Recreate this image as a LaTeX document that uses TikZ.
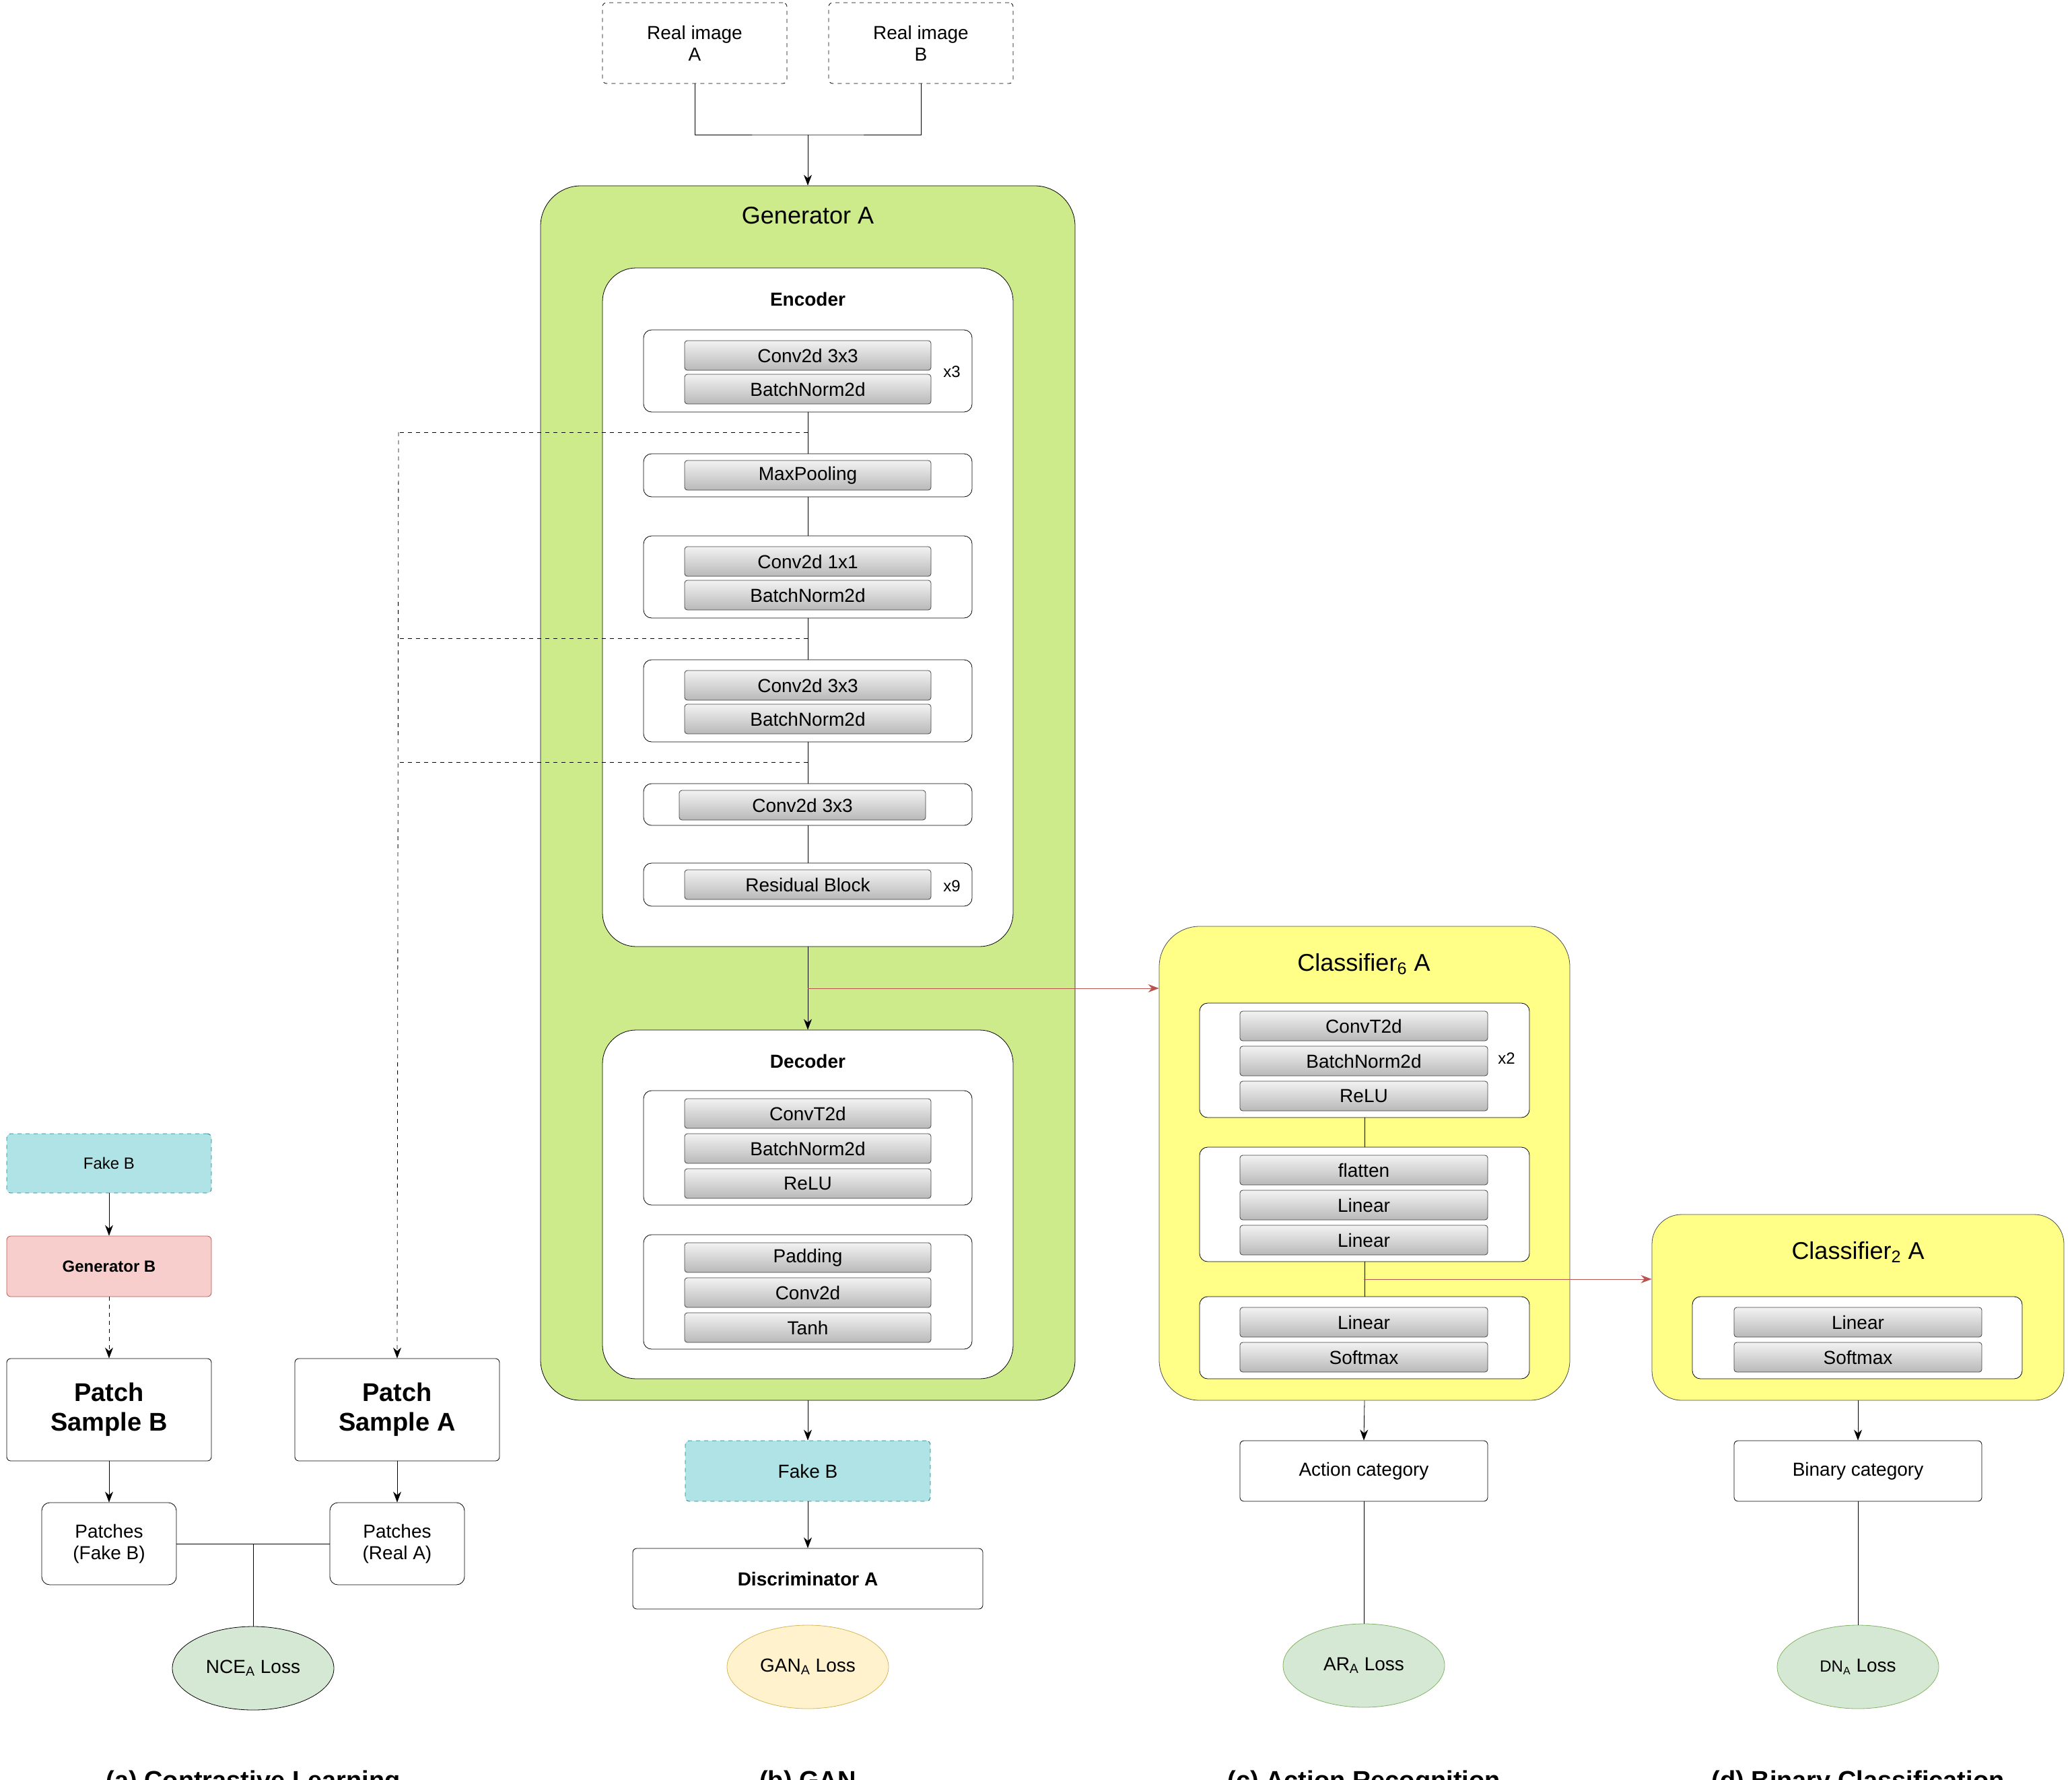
\documentclass[tikz,border=0pt]{standalone}
\usepackage{fontspec}
\setmainfont{Liberation Sans}
\usetikzlibrary{arrows.meta,shapes.geometric}
\definecolor{gen}{HTML}{CDEB8B}
\definecolor{cls}{HTML}{FFFF88}
\definecolor{teal1}{HTML}{B0E3E6}
\definecolor{teal2}{HTML}{0E8088}
\definecolor{redf}{HTML}{F8CECC}
\definecolor{redd}{HTML}{B85450}
\definecolor{grf}{HTML}{D5E8D4}
\definecolor{grd}{HTML}{82B366}
\definecolor{yf}{HTML}{FFF2CC}
\definecolor{yd}{HTML}{D6B656}
\definecolor{arr}{HTML}{B85450}
\tikzset{
 T/.style={font=\fontsize{14}{16}\selectfont},
 btn/.style={draw=gray!50!black,rounded corners=2pt,top color=gray!10,bottom color=gray!55,minimum height=22pt,inner sep=0pt,T},
 blk/.style={draw,fill=white,rounded corners=6pt,inner sep=0pt},
 big/.style={draw,rounded corners=30pt,inner sep=0pt},
 box/.style={draw,fill=white,rounded corners=3pt,inner sep=0pt,T,align=center},
 loss/.style={ellipse,draw,minimum width=120pt,minimum height=62pt,inner sep=0pt,T},
 a/.style={-{Stealth[length=8pt,width=6pt]}},
 ra/.style={draw=arr,-{Stealth[length=8pt,width=6pt]}},
 captxt/.style={font=\fontsize{19}{22}\selectfont\bfseries},
}
\begin{document}
\begin{tikzpicture}[x=1pt,y=-1pt]
\useasboundingbox (0,0) rectangle (1539,1322);
% real images
\node[box,dashed,minimum width=137,minimum height=60] (ra) at (516,32) {Real image\\A};
\node[box,dashed,minimum width=137,minimum height=60] (rb) at (684,32) {Real image\\B};
% generator
\node[big,fill=gen,minimum width=397,minimum height=902] (gen) at (600,589) {};
\node[font=\fontsize{18}{20}\selectfont] (gent) at (600,160) {Generator A};
\coordinate (jn) at (600,100);
\draw (ra.south) |- (jn) -| (rb.south);
\draw[a] (jn) -- (gen.north);
% encoder
\node[big,fill=white,rounded corners=25pt,minimum width=305,minimum height=504] (enc) at (600,451) {};
\node[T,font=\fontsize{14}{16}\selectfont\bfseries] (enct) at (600,222) {Encoder};
\node[blk,minimum width=244,minimum height=61] (b1) at (600,275.5) {};
\node[btn,minimum width=183] (b1a) at (600,264) {Conv2d 3x3};
\node[btn,minimum width=183] (b1b) at (600,289) {BatchNorm2d};
\node[T] (x3) at (707,276) {\fontsize{12}{14}\selectfont x3};
\node[blk,minimum width=244,minimum height=32] (b2) at (600,353) {};
\node[btn,minimum width=183] (b2a) at (600,353) {MaxPooling};
\node[blk,minimum width=244,minimum height=61] (b3) at (600,428.5) {};
\node[btn,minimum width=183] (b3a) at (600,417) {Conv2d 1x1};
\node[btn,minimum width=183] (b3b) at (600,442) {BatchNorm2d};
\node[blk,minimum width=244,minimum height=61] (b4) at (600,520.5) {};
\node[btn,minimum width=183] (b4a) at (600,509) {Conv2d 3x3};
\node[btn,minimum width=183] (b4b) at (600,534) {BatchNorm2d};
\node[blk,minimum width=244,minimum height=31] (b5) at (600,597.5) {};
\node[btn,minimum width=183] (b5a) at (596,598) {Conv2d 3x3};
\node[blk,minimum width=244,minimum height=32] (b6) at (600,657) {};
\node[btn,minimum width=183] (b6a) at (600,657) {Residual Block};
\node[T] (x9) at (707,658) {\fontsize{12}{14}\selectfont x9};
\draw (b1) -- (b2); \draw (b2) -- (b3); \draw (b3) -- (b4); \draw (b4) -- (b5); \draw (b5) -- (b6);
% decoder
\node[big,fill=white,rounded corners=25pt,minimum width=305,minimum height=259] (dec) at (600,894.5) {};
\node[font=\fontsize{14}{16}\selectfont\bfseries] (dect) at (600,788) {Decoder};
\node[blk,minimum width=244,minimum height=85] (d1) at (600,852.5) {};
\node[btn,minimum width=183] (d1a) at (600,827) {ConvT2d};
\node[btn,minimum width=183] (d1b) at (600,853) {BatchNorm2d};
\node[btn,minimum width=183] (d1c) at (600,879) {ReLU};
\node[blk,minimum width=244,minimum height=85] (d2) at (600,959.5) {};
\node[btn,minimum width=183] (d2a) at (600,934) {Padding};
\node[btn,minimum width=183] (d2b) at (600,960) {Conv2d};
\node[btn,minimum width=183] (d2c) at (600,986) {Tanh};
\draw[a] (enc.south) -- (dec.north);
\coordinate (rs) at (600,734);
% GAN bottom
\node[box,dashed,draw=teal2,fill=teal1,minimum width=182,minimum height=45] (fb) at (600,1092.5) {Fake B};
\node[box,minimum width=260,minimum height=45,font=\fontsize{14}{16}\selectfont\bfseries] (disc) at (600,1172.5) {Discriminator A};
\node[loss,fill=yf,draw=yd] (gl) at (600,1238) {GAN\textsubscript{A} Loss};
\draw[a] (gen.south) -- (fb.north);
\draw[a] (fb.south) -- (disc.north);
% classifier 6
\node[big,fill=cls,draw=black!70,minimum width=305,minimum height=352] (c6) at (1013.5,864) {};
\node[font=\fontsize{18}{20}\selectfont] (c6t) at (1013,716) {Classifier\textsubscript{6} A};
\draw[ra] (rs) -- (c6.west|-rs);
\node[blk,minimum width=245,minimum height=85] (c1) at (1013.5,787.5) {};
\node[btn,minimum width=184] (c1a) at (1013,762) {ConvT2d};
\node[btn,minimum width=184] (c1b) at (1013,788) {BatchNorm2d};
\node[btn,minimum width=184] (c1c) at (1013,814) {ReLU};
\node[T] (x2) at (1119,786) {\fontsize{12}{14}\selectfont x2};
\node[blk,minimum width=245,minimum height=85] (c2) at (1013.5,894.5) {};
\node[btn,minimum width=184] (c2a) at (1013,869) {flatten};
\node[btn,minimum width=184] (c2b) at (1013,895) {Linear};
\node[btn,minimum width=184] (c2c) at (1013,921) {Linear};
\node[blk,minimum width=245,minimum height=61] (c3) at (1013.5,993.5) {};
\node[btn,minimum width=184] (c3a) at (1013,982) {Linear};
\node[btn,minimum width=184] (c3b) at (1013,1008) {Softmax};
\draw (c1) -- (c2); \draw (c2) -- (c3);
\coordinate (rs2) at (1013,950);
\node[box,minimum width=184,minimum height=45] (ac) at (1013,1092.5) {Action category};
\node[loss,fill=grf,draw=grd] (arl) at (1013,1237) {AR\textsubscript{A} Loss};
\draw[a] (c6.south) -- (ac.north);
\draw (ac.south) -- (arl.north);
% classifier 2
\node[big,fill=cls,draw=black!70,rounded corners=22pt,minimum width=306,minimum height=138] (c2b2) at (1380,971) {};
\node[font=\fontsize{18}{20}\selectfont] (c2t) at (1380,930) {Classifier\textsubscript{2} A};
\draw[ra] (rs2) -- (c2b2.west|-rs2);
\node[blk,minimum width=245,minimum height=61] (k1) at (1379.5,993.5) {};
\node[btn,minimum width=184] (k1a) at (1380,982) {Linear};
\node[btn,minimum width=184] (k1b) at (1380,1008) {Softmax};
\node[box,minimum width=184,minimum height=45] (bc) at (1380,1092.5) {Binary category};
\node[loss,fill=grf,draw=grd] (dnl) at (1380,1238) {{\fontsize{12}{14}\selectfont DN\textsubscript{A}} Loss};
\draw[a] (c2b2.south) -- (bc.north);
\draw (bc.south) -- (dnl.north);
% contrastive
\node[box,dashed,draw=teal2,fill=teal1,minimum width=152,minimum height=44,font=\fontsize{12}{14}\selectfont] (fb2) at (81,864) {Fake B};
\node[box,draw=redd,fill=redf,minimum width=152,minimum height=45,font=\fontsize{12}{14}\selectfont\bfseries] (gb) at (81,940.5) {Generator B};
\node[box,minimum width=152,minimum height=76,font=\fontsize{19}{22}\selectfont\bfseries] (psb) at (81,1047) {Patch\\Sample B};
\node[box,minimum width=152,minimum height=76,font=\fontsize{19}{22}\selectfont\bfseries] (psa) at (295,1047) {Patch\\Sample A};
\node[box,rounded corners=6pt,minimum width=100,minimum height=61] (pfb) at (81,1146.5) {Patches\\(Fake B)};
\node[box,rounded corners=6pt,minimum width=100,minimum height=61] (pra) at (295,1146.5) {Patches\\(Real A)};
\node[loss,fill=grf,draw=black] (nce) at (188,1239) {NCE\textsubscript{A} Loss};
\draw[a] (fb2) -- (gb);
\draw[a,dashed] (gb) -- (psb);
\draw[a] (psb) -- (pfb);
\draw[a] (psa) -- (pra);
\draw (pfb.east) -- (pra.west);
\coordinate (nj) at (188,1147);
\draw (nj) -- (nce.north);
% dashed feature lines
\coordinate (f1) at (600,321); \coordinate (f2) at (600,474); \coordinate (f3) at (600,566);
\coordinate (g1) at (296,321);
\draw[dashed] (f1) -- (g1);
\draw[dashed] (f2) -- (296,474);
\draw[dashed] (f3) -- (296,566);
\draw[dashed,a] (g1) -- (psa.north);
% captions
\node[captxt] (ca) at (188,1324) {(a) Contrastive Learning};
\node[captxt] (cb) at (600,1324) {(b) GAN};
\node[captxt] (cc) at (1013,1324) {(c) Action Recognition};
\node[captxt] (cd) at (1380,1324) {(d) Binary Classification};
\end{tikzpicture}
\end{document}
